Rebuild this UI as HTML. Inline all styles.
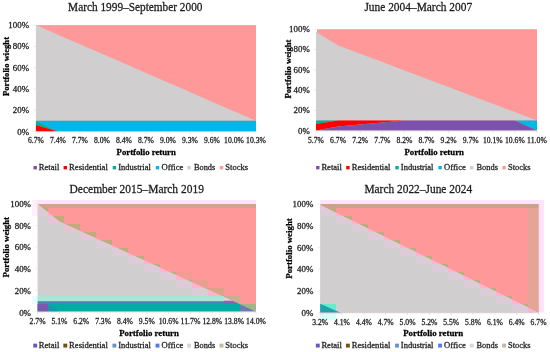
<!DOCTYPE html>
<html><head><meta charset="utf-8"><title>Portfolio weights</title>
<style>html,body{margin:0;padding:0;background:#fff}svg{display:block}text{font-family:"Liberation Serif", serif}</style></head><body>
<svg width="550" height="352" viewBox="0 0 550 352">
<rect width="550" height="352" fill="#fff"/>
<rect x="36.90" y="25.10" width="219.10" height="106.30" fill="#FF9999"/>
<polygon points="35.90,25.10 57.91,34.67 79.92,44.23 101.93,53.80 123.94,63.37 145.95,72.94 167.96,82.50 189.97,92.07 211.98,101.64 233.99,111.20 256.00,120.77 256.00,120.77 233.99,120.77 211.98,120.77 189.97,120.77 167.96,120.77 145.95,120.77 123.94,120.77 101.93,120.77 79.92,120.77 57.91,120.77 35.90,120.77" fill="#D0CECE" />
<polygon points="35.90,120.77 57.91,120.77 79.92,120.77 101.93,120.77 123.94,120.77 145.95,120.77 167.96,120.77 189.97,120.77 211.98,120.77 233.99,120.77 256.00,120.77 256.00,131.40 233.99,131.40 211.98,131.40 189.97,131.40 167.96,131.40 145.95,131.40 123.94,131.40 101.93,131.40 79.92,131.40 57.91,131.40 35.90,120.77" fill="#00B8E6" />
<polygon points="35.90,120.77 57.91,131.40 79.92,131.40 101.93,131.40 123.94,131.40 145.95,131.40 167.96,131.40 189.97,131.40 211.98,131.40 233.99,131.40 256.00,131.40 256.00,131.40 233.99,131.40 211.98,131.40 189.97,131.40 167.96,131.40 145.95,131.40 123.94,131.40 101.93,131.40 79.92,131.40 57.91,131.40 35.90,125.02" fill="#00B09A" />
<polygon points="35.90,125.02 57.91,131.40 79.92,131.40 101.93,131.40 123.94,131.40 145.95,131.40 167.96,131.40 189.97,131.40 211.98,131.40 233.99,131.40 256.00,131.40 256.00,131.40 233.99,131.40 211.98,131.40 189.97,131.40 167.96,131.40 145.95,131.40 123.94,131.40 101.93,131.40 79.92,131.40 57.91,131.40 35.90,131.40" fill="#FF0000" />
<path d="M35.90 131.70 H256.00" stroke="#D4D4D4" stroke-width="0.8" fill="none"/>
<path d="M35.90 131.70 v2.2M57.91 131.70 v2.2M79.92 131.70 v2.2M101.93 131.70 v2.2M123.94 131.70 v2.2M145.95 131.70 v2.2M167.96 131.70 v2.2M189.97 131.70 v2.2M211.98 131.70 v2.2M233.99 131.70 v2.2M256.00 131.70 v2.2" stroke="#DADADA" stroke-width="0.7" fill="none"/>
<path d="M35.90 131.40 h-2.2M35.90 110.14 h-2.2M35.90 88.88 h-2.2M35.90 67.62 h-2.2M35.90 46.36 h-2.2M35.90 25.10 h-2.2" stroke="#E2E2E2" stroke-width="0.7" fill="none"/>
<text x="29.10" y="134.80" font-size="8.30" text-anchor="end" textLength="11.84" lengthAdjust="spacingAndGlyphs" fill="#1c1c1c" stroke="#1c1c1c" stroke-width="0.26">0%</text>
<text x="29.10" y="113.46" font-size="8.30" text-anchor="end" textLength="16.28" lengthAdjust="spacingAndGlyphs" fill="#1c1c1c" stroke="#1c1c1c" stroke-width="0.26">20%</text>
<text x="29.10" y="92.12" font-size="8.30" text-anchor="end" textLength="16.28" lengthAdjust="spacingAndGlyphs" fill="#1c1c1c" stroke="#1c1c1c" stroke-width="0.26">40%</text>
<text x="29.10" y="70.78" font-size="8.30" text-anchor="end" textLength="16.28" lengthAdjust="spacingAndGlyphs" fill="#1c1c1c" stroke="#1c1c1c" stroke-width="0.26">60%</text>
<text x="29.10" y="49.44" font-size="8.30" text-anchor="end" textLength="16.28" lengthAdjust="spacingAndGlyphs" fill="#1c1c1c" stroke="#1c1c1c" stroke-width="0.26">80%</text>
<text x="29.10" y="28.10" font-size="8.30" text-anchor="end" textLength="20.72" lengthAdjust="spacingAndGlyphs" fill="#1c1c1c" stroke="#1c1c1c" stroke-width="0.26">100%</text>
<text x="35.90" y="143.20" font-size="7.90" text-anchor="middle" textLength="15.96" lengthAdjust="spacingAndGlyphs" fill="#1c1c1c" stroke="#1c1c1c" stroke-width="0.26">6.7%</text>
<text x="57.91" y="143.20" font-size="7.90" text-anchor="middle" textLength="15.96" lengthAdjust="spacingAndGlyphs" fill="#1c1c1c" stroke="#1c1c1c" stroke-width="0.26">7.4%</text>
<text x="79.92" y="143.20" font-size="7.90" text-anchor="middle" textLength="15.96" lengthAdjust="spacingAndGlyphs" fill="#1c1c1c" stroke="#1c1c1c" stroke-width="0.26">7.7%</text>
<text x="101.93" y="143.20" font-size="7.90" text-anchor="middle" textLength="15.96" lengthAdjust="spacingAndGlyphs" fill="#1c1c1c" stroke="#1c1c1c" stroke-width="0.26">8.0%</text>
<text x="123.94" y="143.20" font-size="7.90" text-anchor="middle" textLength="15.96" lengthAdjust="spacingAndGlyphs" fill="#1c1c1c" stroke="#1c1c1c" stroke-width="0.26">8.4%</text>
<text x="145.95" y="143.20" font-size="7.90" text-anchor="middle" textLength="15.96" lengthAdjust="spacingAndGlyphs" fill="#1c1c1c" stroke="#1c1c1c" stroke-width="0.26">8.7%</text>
<text x="167.96" y="143.20" font-size="7.90" text-anchor="middle" textLength="15.96" lengthAdjust="spacingAndGlyphs" fill="#1c1c1c" stroke="#1c1c1c" stroke-width="0.26">9.0%</text>
<text x="189.97" y="143.20" font-size="7.90" text-anchor="middle" textLength="15.96" lengthAdjust="spacingAndGlyphs" fill="#1c1c1c" stroke="#1c1c1c" stroke-width="0.26">9.3%</text>
<text x="211.98" y="143.20" font-size="7.90" text-anchor="middle" textLength="15.96" lengthAdjust="spacingAndGlyphs" fill="#1c1c1c" stroke="#1c1c1c" stroke-width="0.26">9.6%</text>
<text x="233.99" y="143.20" font-size="7.90" text-anchor="middle" textLength="19.79" lengthAdjust="spacingAndGlyphs" fill="#1c1c1c" stroke="#1c1c1c" stroke-width="0.26">10.0%</text>
<text x="256.00" y="143.20" font-size="7.90" text-anchor="middle" textLength="19.79" lengthAdjust="spacingAndGlyphs" fill="#1c1c1c" stroke="#1c1c1c" stroke-width="0.26">10.3%</text>
<text x="9.30" y="66.50" font-size="8.80" text-anchor="middle" font-weight="bold" textLength="59.00" lengthAdjust="spacingAndGlyphs" transform="rotate(-90 9.30 66.50)" fill="#000" stroke="#000" stroke-width="0.26">Portfolio wieght</text>
<text x="146.20" y="154.70" font-size="8.90" text-anchor="middle" font-weight="bold" textLength="59.30" lengthAdjust="spacingAndGlyphs" fill="#000" stroke="#000" stroke-width="0.26">Portfolio return</text>
<text x="68.10" y="10.50" font-size="11.50" text-anchor="start" textLength="134.40" lengthAdjust="spacingAndGlyphs" fill="#1c1c1c" stroke="#1c1c1c" stroke-width="0.26">March 1999–September 2000</text>
<rect x="33.50" y="166.00" width="3.40" height="3.40" fill="#7B52AB"/>
<text x="38.80" y="169.60" font-size="8.30" text-anchor="start" textLength="20.50" lengthAdjust="spacingAndGlyphs" fill="#1c1c1c" stroke="#1c1c1c" stroke-width="0.26">Retail</text>
<rect x="63.60" y="166.00" width="3.40" height="3.40" fill="#FF0000"/>
<text x="69.10" y="169.60" font-size="8.30" text-anchor="start" textLength="38.70" lengthAdjust="spacingAndGlyphs" fill="#1c1c1c" stroke="#1c1c1c" stroke-width="0.26">Residential</text>
<rect x="112.70" y="166.00" width="3.40" height="3.40" fill="#00B09A"/>
<text x="118.20" y="169.60" font-size="8.30" text-anchor="start" textLength="32.70" lengthAdjust="spacingAndGlyphs" fill="#1c1c1c" stroke="#1c1c1c" stroke-width="0.26">Industrial</text>
<rect x="155.80" y="166.00" width="3.40" height="3.40" fill="#00B8E6"/>
<text x="161.50" y="169.60" font-size="8.30" text-anchor="start" textLength="21.80" lengthAdjust="spacingAndGlyphs" fill="#1c1c1c" stroke="#1c1c1c" stroke-width="0.26">Office</text>
<rect x="187.40" y="166.00" width="3.40" height="3.40" fill="#D0CECE"/>
<text x="193.90" y="169.60" font-size="8.30" text-anchor="start" textLength="21.40" lengthAdjust="spacingAndGlyphs" fill="#1c1c1c" stroke="#1c1c1c" stroke-width="0.26">Bonds</text>
<rect x="219.80" y="166.00" width="3.40" height="3.40" fill="#FF9999"/>
<text x="225.30" y="169.60" font-size="8.30" text-anchor="start" textLength="22.80" lengthAdjust="spacingAndGlyphs" fill="#1c1c1c" stroke="#1c1c1c" stroke-width="0.26">Stocks</text>
<rect x="317.00" y="29.20" width="220.00" height="101.40" fill="#FF9999"/>
<polygon points="316.00,31.73 338.10,45.42 360.20,53.76 382.30,62.10 404.40,70.44 426.50,78.77 448.60,87.11 470.70,95.45 492.80,103.79 514.90,112.12 537.00,120.46 537.00,120.46 514.90,120.46 492.80,120.46 470.70,120.46 448.60,120.46 426.50,120.46 404.40,120.46 382.30,120.46 360.20,120.46 338.10,120.46 316.00,120.46" fill="#D0CECE" />
<polygon points="316.00,120.46 338.10,120.46 360.20,120.46 382.30,120.46 404.40,120.46 426.50,120.46 448.60,120.46 470.70,120.46 492.80,120.46 514.90,120.46 537.00,120.46 537.00,130.60 514.90,120.46 492.80,120.46 470.70,120.46 448.60,120.46 426.50,120.46 404.40,120.46 382.30,120.46 360.20,120.46 338.10,120.46 316.00,120.46" fill="#00B8E6" />
<polygon points="316.00,120.46 338.10,120.46 360.20,120.46 382.30,120.46 404.40,120.46 426.50,120.46 448.60,120.46 470.70,120.46 492.80,120.46 514.90,120.46 537.00,130.60 537.00,130.60 514.90,120.46 492.80,120.46 470.70,120.46 448.60,120.46 426.50,120.46 404.40,120.46 382.30,120.46 360.20,120.46 338.10,120.46 316.00,124.01" fill="#00B09A" />
<polygon points="316.00,124.01 338.10,120.46 360.20,120.46 382.30,120.46 404.40,120.46 426.50,120.46 448.60,120.46 470.70,120.46 492.80,120.46 514.90,120.46 537.00,130.60 537.00,130.60 514.90,120.46 492.80,120.46 470.70,120.46 448.60,120.46 426.50,120.46 404.40,120.46 382.30,122.49 360.20,124.52 338.10,126.54 316.00,130.60" fill="#FF0000" />
<polygon points="316.00,130.60 338.10,126.54 360.20,124.52 382.30,122.49 404.40,120.46 426.50,120.46 448.60,120.46 470.70,120.46 492.80,120.46 514.90,120.46 537.00,130.60 537.00,130.60 514.90,130.60 492.80,130.60 470.70,130.60 448.60,130.60 426.50,130.60 404.40,130.60 382.30,130.60 360.20,130.60 338.10,130.60 316.00,130.60" fill="#7B52AB" />
<path d="M316.00 130.90 H537.00" stroke="#D4D4D4" stroke-width="0.8" fill="none"/>
<path d="M316.00 130.90 v2.2M338.10 130.90 v2.2M360.20 130.90 v2.2M382.30 130.90 v2.2M404.40 130.90 v2.2M426.50 130.90 v2.2M448.60 130.90 v2.2M470.70 130.90 v2.2M492.80 130.90 v2.2M514.90 130.90 v2.2M537.00 130.90 v2.2" stroke="#DADADA" stroke-width="0.7" fill="none"/>
<path d="M316.00 130.60 h-2.2M316.00 110.32 h-2.2M316.00 90.04 h-2.2M316.00 69.76 h-2.2M316.00 49.48 h-2.2M316.00 29.20 h-2.2" stroke="#E2E2E2" stroke-width="0.7" fill="none"/>
<text x="309.80" y="133.80" font-size="8.30" text-anchor="end" textLength="11.84" lengthAdjust="spacingAndGlyphs" fill="#1c1c1c" stroke="#1c1c1c" stroke-width="0.26">0%</text>
<text x="309.80" y="113.44" font-size="8.30" text-anchor="end" textLength="16.28" lengthAdjust="spacingAndGlyphs" fill="#1c1c1c" stroke="#1c1c1c" stroke-width="0.26">20%</text>
<text x="309.80" y="93.08" font-size="8.30" text-anchor="end" textLength="16.28" lengthAdjust="spacingAndGlyphs" fill="#1c1c1c" stroke="#1c1c1c" stroke-width="0.26">40%</text>
<text x="309.80" y="72.72" font-size="8.30" text-anchor="end" textLength="16.28" lengthAdjust="spacingAndGlyphs" fill="#1c1c1c" stroke="#1c1c1c" stroke-width="0.26">60%</text>
<text x="309.80" y="52.36" font-size="8.30" text-anchor="end" textLength="16.28" lengthAdjust="spacingAndGlyphs" fill="#1c1c1c" stroke="#1c1c1c" stroke-width="0.26">80%</text>
<text x="309.80" y="32.00" font-size="8.30" text-anchor="end" textLength="20.72" lengthAdjust="spacingAndGlyphs" fill="#1c1c1c" stroke="#1c1c1c" stroke-width="0.26">100%</text>
<text x="316.00" y="142.90" font-size="7.90" text-anchor="middle" textLength="15.96" lengthAdjust="spacingAndGlyphs" fill="#1c1c1c" stroke="#1c1c1c" stroke-width="0.26">5.7%</text>
<text x="338.10" y="142.90" font-size="7.90" text-anchor="middle" textLength="15.96" lengthAdjust="spacingAndGlyphs" fill="#1c1c1c" stroke="#1c1c1c" stroke-width="0.26">6.7%</text>
<text x="360.20" y="142.90" font-size="7.90" text-anchor="middle" textLength="15.96" lengthAdjust="spacingAndGlyphs" fill="#1c1c1c" stroke="#1c1c1c" stroke-width="0.26">7.2%</text>
<text x="382.30" y="142.90" font-size="7.90" text-anchor="middle" textLength="15.96" lengthAdjust="spacingAndGlyphs" fill="#1c1c1c" stroke="#1c1c1c" stroke-width="0.26">7.7%</text>
<text x="404.40" y="142.90" font-size="7.90" text-anchor="middle" textLength="15.96" lengthAdjust="spacingAndGlyphs" fill="#1c1c1c" stroke="#1c1c1c" stroke-width="0.26">8.2%</text>
<text x="426.50" y="142.90" font-size="7.90" text-anchor="middle" textLength="15.96" lengthAdjust="spacingAndGlyphs" fill="#1c1c1c" stroke="#1c1c1c" stroke-width="0.26">8.7%</text>
<text x="448.60" y="142.90" font-size="7.90" text-anchor="middle" textLength="15.96" lengthAdjust="spacingAndGlyphs" fill="#1c1c1c" stroke="#1c1c1c" stroke-width="0.26">9.2%</text>
<text x="470.70" y="142.90" font-size="7.90" text-anchor="middle" textLength="15.96" lengthAdjust="spacingAndGlyphs" fill="#1c1c1c" stroke="#1c1c1c" stroke-width="0.26">9.7%</text>
<text x="492.80" y="142.90" font-size="7.90" text-anchor="middle" textLength="19.79" lengthAdjust="spacingAndGlyphs" fill="#1c1c1c" stroke="#1c1c1c" stroke-width="0.26">10.1%</text>
<text x="514.90" y="142.90" font-size="7.90" text-anchor="middle" textLength="19.79" lengthAdjust="spacingAndGlyphs" fill="#1c1c1c" stroke="#1c1c1c" stroke-width="0.26">10.6%</text>
<text x="537.00" y="142.90" font-size="7.90" text-anchor="middle" textLength="19.79" lengthAdjust="spacingAndGlyphs" fill="#1c1c1c" stroke="#1c1c1c" stroke-width="0.26">11.0%</text>
<text x="291.30" y="69.10" font-size="8.80" text-anchor="middle" font-weight="bold" textLength="59.00" lengthAdjust="spacingAndGlyphs" transform="rotate(-90 291.30 69.10)" fill="#000" stroke="#000" stroke-width="0.26">Portfolio weight</text>
<text x="434.20" y="154.50" font-size="8.90" text-anchor="middle" font-weight="bold" textLength="59.50" lengthAdjust="spacingAndGlyphs" fill="#000" stroke="#000" stroke-width="0.26">Portfolio return</text>
<text x="364.40" y="11.00" font-size="11.50" text-anchor="start" textLength="107.70" lengthAdjust="spacingAndGlyphs" fill="#1c1c1c" stroke="#1c1c1c" stroke-width="0.26">June 2004–March 2007</text>
<rect x="316.10" y="166.00" width="3.40" height="3.40" fill="#7B52AB"/>
<text x="321.40" y="169.60" font-size="8.30" text-anchor="start" textLength="20.50" lengthAdjust="spacingAndGlyphs" fill="#1c1c1c" stroke="#1c1c1c" stroke-width="0.26">Retail</text>
<rect x="346.20" y="166.00" width="3.40" height="3.40" fill="#FF0000"/>
<text x="351.70" y="169.60" font-size="8.30" text-anchor="start" textLength="38.70" lengthAdjust="spacingAndGlyphs" fill="#1c1c1c" stroke="#1c1c1c" stroke-width="0.26">Residential</text>
<rect x="395.30" y="166.00" width="3.40" height="3.40" fill="#00B09A"/>
<text x="400.80" y="169.60" font-size="8.30" text-anchor="start" textLength="32.70" lengthAdjust="spacingAndGlyphs" fill="#1c1c1c" stroke="#1c1c1c" stroke-width="0.26">Industrial</text>
<rect x="438.40" y="166.00" width="3.40" height="3.40" fill="#00B8E6"/>
<text x="444.10" y="169.60" font-size="8.30" text-anchor="start" textLength="21.80" lengthAdjust="spacingAndGlyphs" fill="#1c1c1c" stroke="#1c1c1c" stroke-width="0.26">Office</text>
<rect x="470.00" y="166.00" width="3.40" height="3.40" fill="#D0CECE"/>
<text x="476.50" y="169.60" font-size="8.30" text-anchor="start" textLength="21.40" lengthAdjust="spacingAndGlyphs" fill="#1c1c1c" stroke="#1c1c1c" stroke-width="0.26">Bonds</text>
<rect x="502.40" y="166.00" width="3.40" height="3.40" fill="#FF9999"/>
<text x="507.90" y="169.60" font-size="8.30" text-anchor="start" textLength="22.80" lengthAdjust="spacingAndGlyphs" fill="#1c1c1c" stroke="#1c1c1c" stroke-width="0.26">Stocks</text>
<rect x="32" y="200" width="224" height="4.2" fill="#FFE3FB"/>
<rect x="32" y="200" width="5.6" height="16" fill="#FFF0FA"/>
<rect x="38.60" y="204.00" width="217.40" height="107.60" fill="#FF9999"/>
<polygon points="37.60,204.00 59.44,221.50 81.28,231.51 103.12,241.52 124.96,251.53 146.80,261.54 168.64,271.56 190.48,281.57 212.32,291.58 234.16,301.59 256.00,311.60 256.00,311.60 37.60,311.60" fill="#D0CECE" />
<clipPath id="c1"><rect x="37.60" y="208.00" width="10.40" height="8.00"/></clipPath>
<g clip-path="url(#c1)">
<polygon points="37.60,204.00 37.60,204.00 59.44,221.50 81.28,231.51 103.12,241.52 124.96,251.53 146.80,261.54 168.64,271.56 190.48,281.57 212.32,291.58 234.16,301.59 256.00,311.60 256.00,311.60 256.00,204.00" fill="#C2AA7E" />
<polygon points="37.60,204.00 59.44,221.50 81.28,231.51 103.12,241.52 124.96,251.53 146.80,261.54 168.64,271.56 190.48,281.57 212.32,291.58 234.16,301.59 256.00,311.60 256.00,311.60 37.60,311.60" fill="#DDCBD7" />
</g>
<clipPath id="c2"><rect x="48.00" y="208.00" width="16.00" height="8.00"/></clipPath>
<g clip-path="url(#c2)">
<polygon points="37.60,204.00 59.44,221.50 81.28,231.51 103.12,241.52 124.96,251.53 146.80,261.54 168.64,271.56 190.48,281.57 212.32,291.58 234.16,301.59 256.00,311.60 256.00,311.60 37.60,311.60" fill="#FBB4CE" />
</g>
<clipPath id="c3"><rect x="48.00" y="216.00" width="16.00" height="8.00"/></clipPath>
<g clip-path="url(#c3)">
<polygon points="37.60,204.00 37.60,204.00 59.44,221.50 81.28,231.51 103.12,241.52 124.96,251.53 146.80,261.54 168.64,271.56 190.48,281.57 212.32,291.58 234.16,301.59 256.00,311.60 256.00,311.60 256.00,204.00" fill="#C2AA7E" />
<polygon points="37.60,204.00 59.44,221.50 81.28,231.51 103.12,241.52 124.96,251.53 146.80,261.54 168.64,271.56 190.48,281.57 212.32,291.58 234.16,301.59 256.00,311.60 256.00,311.60 37.60,311.60" fill="#E5C5D5" />
</g>
<clipPath id="c4"><rect x="64.00" y="224.00" width="16.00" height="8.00"/></clipPath>
<g clip-path="url(#c4)">
<polygon points="37.60,204.00 37.60,204.00 59.44,221.50 81.28,231.51 103.12,241.52 124.96,251.53 146.80,261.54 168.64,271.56 190.48,281.57 212.32,291.58 234.16,301.59 256.00,311.60 256.00,311.60 256.00,204.00" fill="#C2AA7E" />
<polygon points="37.60,204.00 59.44,221.50 81.28,231.51 103.12,241.52 124.96,251.53 146.80,261.54 168.64,271.56 190.48,281.57 212.32,291.58 234.16,301.59 256.00,311.60 256.00,311.60 37.60,311.60" fill="#E8C3D4" />
</g>
<clipPath id="c5"><rect x="80.00" y="224.00" width="16.00" height="8.00"/></clipPath>
<g clip-path="url(#c5)">
<polygon points="37.60,204.00 59.44,221.50 81.28,231.51 103.12,241.52 124.96,251.53 146.80,261.54 168.64,271.56 190.48,281.57 212.32,291.58 234.16,301.59 256.00,311.60 256.00,311.60 37.60,311.60" fill="#FBB4CE" />
</g>
<clipPath id="c6"><rect x="80.00" y="232.00" width="16.00" height="8.00"/></clipPath>
<g clip-path="url(#c6)">
<polygon points="37.60,204.00 37.60,204.00 59.44,221.50 81.28,231.51 103.12,241.52 124.96,251.53 146.80,261.54 168.64,271.56 190.48,281.57 212.32,291.58 234.16,301.59 256.00,311.60 256.00,311.60 256.00,204.00" fill="#C2AA7E" />
<polygon points="37.60,204.00 59.44,221.50 81.28,231.51 103.12,241.52 124.96,251.53 146.80,261.54 168.64,271.56 190.48,281.57 212.32,291.58 234.16,301.59 256.00,311.60 256.00,311.60 37.60,311.60" fill="#E0C8D6" />
</g>
<clipPath id="c7"><rect x="96.00" y="232.00" width="16.00" height="8.00"/></clipPath>
<g clip-path="url(#c7)">
<polygon points="37.60,204.00 59.44,221.50 81.28,231.51 103.12,241.52 124.96,251.53 146.80,261.54 168.64,271.56 190.48,281.57 212.32,291.58 234.16,301.59 256.00,311.60 256.00,311.60 37.60,311.60" fill="#FBB4CE" />
</g>
<clipPath id="c8"><rect x="96.00" y="240.00" width="16.00" height="8.00"/></clipPath>
<g clip-path="url(#c8)">
<polygon points="37.60,204.00 37.60,204.00 59.44,221.50 81.28,231.51 103.12,241.52 124.96,251.53 146.80,261.54 168.64,271.56 190.48,281.57 212.32,291.58 234.16,301.59 256.00,311.60 256.00,311.60 256.00,204.00" fill="#C2AA7E" />
<polygon points="37.60,204.00 59.44,221.50 81.28,231.51 103.12,241.52 124.96,251.53 146.80,261.54 168.64,271.56 190.48,281.57 212.32,291.58 234.16,301.59 256.00,311.60 256.00,311.60 37.60,311.60" fill="#DDCBD7" />
</g>
<clipPath id="c9"><rect x="112.00" y="240.00" width="16.00" height="8.00"/></clipPath>
<g clip-path="url(#c9)">
<polygon points="37.60,204.00 59.44,221.50 81.28,231.51 103.12,241.52 124.96,251.53 146.80,261.54 168.64,271.56 190.48,281.57 212.32,291.58 234.16,301.59 256.00,311.60 256.00,311.60 37.60,311.60" fill="#FBB4CE" />
</g>
<clipPath id="c10"><rect x="112.00" y="248.00" width="16.00" height="8.00"/></clipPath>
<g clip-path="url(#c10)">
<polygon points="37.60,204.00 37.60,204.00 59.44,221.50 81.28,231.51 103.12,241.52 124.96,251.53 146.80,261.54 168.64,271.56 190.48,281.57 212.32,291.58 234.16,301.59 256.00,311.60 256.00,311.60 256.00,204.00" fill="#C2AA7E" />
<polygon points="37.60,204.00 59.44,221.50 81.28,231.51 103.12,241.52 124.96,251.53 146.80,261.54 168.64,271.56 190.48,281.57 212.32,291.58 234.16,301.59 256.00,311.60 256.00,311.60 37.60,311.60" fill="#DDCBD7" />
</g>
<clipPath id="c11"><rect x="128.00" y="248.00" width="16.00" height="8.00"/></clipPath>
<g clip-path="url(#c11)">
<polygon points="37.60,204.00 59.44,221.50 81.28,231.51 103.12,241.52 124.96,251.53 146.80,261.54 168.64,271.56 190.48,281.57 212.32,291.58 234.16,301.59 256.00,311.60 256.00,311.60 37.60,311.60" fill="#FBB4CE" />
</g>
<clipPath id="c12"><rect x="128.00" y="256.00" width="16.00" height="8.00"/></clipPath>
<g clip-path="url(#c12)">
<polygon points="37.60,204.00 37.60,204.00 59.44,221.50 81.28,231.51 103.12,241.52 124.96,251.53 146.80,261.54 168.64,271.56 190.48,281.57 212.32,291.58 234.16,301.59 256.00,311.60 256.00,311.60 256.00,204.00" fill="#C2AA7E" />
<polygon points="37.60,204.00 59.44,221.50 81.28,231.51 103.12,241.52 124.96,251.53 146.80,261.54 168.64,271.56 190.48,281.57 212.32,291.58 234.16,301.59 256.00,311.60 256.00,311.60 37.60,311.60" fill="#DDCBD7" />
</g>
<clipPath id="c13"><rect x="144.00" y="256.00" width="16.00" height="8.00"/></clipPath>
<g clip-path="url(#c13)">
<polygon points="37.60,204.00 59.44,221.50 81.28,231.51 103.12,241.52 124.96,251.53 146.80,261.54 168.64,271.56 190.48,281.57 212.32,291.58 234.16,301.59 256.00,311.60 256.00,311.60 37.60,311.60" fill="#FBB4CE" />
</g>
<clipPath id="c14"><rect x="144.00" y="264.00" width="16.00" height="8.00"/></clipPath>
<g clip-path="url(#c14)">
<polygon points="37.60,204.00 37.60,204.00 59.44,221.50 81.28,231.51 103.12,241.52 124.96,251.53 146.80,261.54 168.64,271.56 190.48,281.57 212.32,291.58 234.16,301.59 256.00,311.60 256.00,311.60 256.00,204.00" fill="#C2AA7E" />
<polygon points="37.60,204.00 59.44,221.50 81.28,231.51 103.12,241.52 124.96,251.53 146.80,261.54 168.64,271.56 190.48,281.57 212.32,291.58 234.16,301.59 256.00,311.60 256.00,311.60 37.60,311.60" fill="#DDCBD7" />
</g>
<clipPath id="c15"><rect x="160.00" y="264.00" width="16.00" height="8.00"/></clipPath>
<g clip-path="url(#c15)">
<polygon points="37.60,204.00 37.60,204.00 59.44,221.50 81.28,231.51 103.12,241.52 124.96,251.53 146.80,261.54 168.64,271.56 190.48,281.57 212.32,291.58 234.16,301.59 256.00,311.60 256.00,311.60 256.00,204.00" fill="#FC9A98" />
<polygon points="37.60,204.00 59.44,221.50 81.28,231.51 103.12,241.52 124.96,251.53 146.80,261.54 168.64,271.56 190.48,281.57 212.32,291.58 234.16,301.59 256.00,311.60 256.00,311.60 37.60,311.60" fill="#FBB4CE" />
</g>
<clipPath id="c16"><rect x="160.00" y="272.00" width="16.00" height="8.00"/></clipPath>
<g clip-path="url(#c16)">
<polygon points="37.60,204.00 37.60,204.00 59.44,221.50 81.28,231.51 103.12,241.52 124.96,251.53 146.80,261.54 168.64,271.56 190.48,281.57 212.32,291.58 234.16,301.59 256.00,311.60 256.00,311.60 256.00,204.00" fill="#C2AA7E" />
<polygon points="37.60,204.00 59.44,221.50 81.28,231.51 103.12,241.52 124.96,251.53 146.80,261.54 168.64,271.56 190.48,281.57 212.32,291.58 234.16,301.59 256.00,311.60 256.00,311.60 37.60,311.60" fill="#DDCBD7" />
</g>
<clipPath id="c17"><rect x="176.00" y="272.00" width="16.00" height="8.00"/></clipPath>
<g clip-path="url(#c17)">
<polygon points="37.60,204.00 37.60,204.00 59.44,221.50 81.28,231.51 103.12,241.52 124.96,251.53 146.80,261.54 168.64,271.56 190.48,281.57 212.32,291.58 234.16,301.59 256.00,311.60 256.00,311.60 256.00,204.00" fill="#F39C94" />
<polygon points="37.60,204.00 59.44,221.50 81.28,231.51 103.12,241.52 124.96,251.53 146.80,261.54 168.64,271.56 190.48,281.57 212.32,291.58 234.16,301.59 256.00,311.60 256.00,311.60 37.60,311.60" fill="#FBB4CE" />
</g>
<clipPath id="c18"><rect x="176.00" y="280.00" width="16.00" height="8.00"/></clipPath>
<g clip-path="url(#c18)">
<polygon points="37.60,204.00 37.60,204.00 59.44,221.50 81.28,231.51 103.12,241.52 124.96,251.53 146.80,261.54 168.64,271.56 190.48,281.57 212.32,291.58 234.16,301.59 256.00,311.60 256.00,311.60 256.00,204.00" fill="#C2AA7E" />
<polygon points="37.60,204.00 59.44,221.50 81.28,231.51 103.12,241.52 124.96,251.53 146.80,261.54 168.64,271.56 190.48,281.57 212.32,291.58 234.16,301.59 256.00,311.60 256.00,311.60 37.60,311.60" fill="#DDCBD7" />
</g>
<clipPath id="c19"><rect x="192.00" y="280.00" width="16.00" height="8.00"/></clipPath>
<g clip-path="url(#c19)">
<polygon points="37.60,204.00 37.60,204.00 59.44,221.50 81.28,231.51 103.12,241.52 124.96,251.53 146.80,261.54 168.64,271.56 190.48,281.57 212.32,291.58 234.16,301.59 256.00,311.60 256.00,311.60 256.00,204.00" fill="#E89F8F" />
<polygon points="37.60,204.00 59.44,221.50 81.28,231.51 103.12,241.52 124.96,251.53 146.80,261.54 168.64,271.56 190.48,281.57 212.32,291.58 234.16,301.59 256.00,311.60 256.00,311.60 37.60,311.60" fill="#FBB4CE" />
</g>
<clipPath id="c20"><rect x="192.00" y="288.00" width="16.00" height="8.00"/></clipPath>
<g clip-path="url(#c20)">
<polygon points="37.60,204.00 37.60,204.00 59.44,221.50 81.28,231.51 103.12,241.52 124.96,251.53 146.80,261.54 168.64,271.56 190.48,281.57 212.32,291.58 234.16,301.59 256.00,311.60 256.00,311.60 256.00,204.00" fill="#C2AA7E" />
<polygon points="37.60,204.00 59.44,221.50 81.28,231.51 103.12,241.52 124.96,251.53 146.80,261.54 168.64,271.56 190.48,281.57 212.32,291.58 234.16,301.59 256.00,311.60 256.00,311.60 37.60,311.60" fill="#DDCBD7" />
</g>
<clipPath id="c21"><rect x="208.00" y="288.00" width="16.00" height="8.00"/></clipPath>
<g clip-path="url(#c21)">
<polygon points="37.60,204.00 37.60,204.00 59.44,221.50 81.28,231.51 103.12,241.52 124.96,251.53 146.80,261.54 168.64,271.56 190.48,281.57 212.32,291.58 234.16,301.59 256.00,311.60 256.00,311.60 256.00,204.00" fill="#DCA38A" />
<polygon points="37.60,204.00 59.44,221.50 81.28,231.51 103.12,241.52 124.96,251.53 146.80,261.54 168.64,271.56 190.48,281.57 212.32,291.58 234.16,301.59 256.00,311.60 256.00,311.60 37.60,311.60" fill="#FBB4CE" />
</g>
<clipPath id="c22"><rect x="208.00" y="296.00" width="16.00" height="8.00"/></clipPath>
<g clip-path="url(#c22)">
<polygon points="37.60,204.00 37.60,204.00 59.44,221.50 81.28,231.51 103.12,241.52 124.96,251.53 146.80,261.54 168.64,271.56 190.48,281.57 212.32,291.58 234.16,301.59 256.00,311.60 256.00,311.60 256.00,204.00" fill="#C2AA7E" />
<polygon points="37.60,204.00 59.44,221.50 81.28,231.51 103.12,241.52 124.96,251.53 146.80,261.54 168.64,271.56 190.48,281.57 212.32,291.58 234.16,301.59 256.00,311.60 256.00,311.60 37.60,311.60" fill="#DDCBD7" />
</g>
<clipPath id="c23"><rect x="224.00" y="296.00" width="16.00" height="8.00"/></clipPath>
<g clip-path="url(#c23)">
<polygon points="37.60,204.00 37.60,204.00 59.44,221.50 81.28,231.51 103.12,241.52 124.96,251.53 146.80,261.54 168.64,271.56 190.48,281.57 212.32,291.58 234.16,301.59 256.00,311.60 256.00,311.60 256.00,204.00" fill="#CFA684" />
<polygon points="37.60,204.00 59.44,221.50 81.28,231.51 103.12,241.52 124.96,251.53 146.80,261.54 168.64,271.56 190.48,281.57 212.32,291.58 234.16,301.59 256.00,311.60 256.00,311.60 37.60,311.60" fill="#F8B6CF" />
</g>
<clipPath id="c24"><rect x="240.00" y="304.00" width="16.00" height="7.60"/></clipPath>
<g clip-path="url(#c24)">
<polygon points="37.60,204.00 37.60,204.00 59.44,221.50 81.28,231.51 103.12,241.52 124.96,251.53 146.80,261.54 168.64,271.56 190.48,281.57 212.32,291.58 234.16,301.59 256.00,311.60 256.00,311.60 256.00,204.00" fill="#C5A97F" />
<polygon points="37.60,204.00 59.44,221.50 81.28,231.51 103.12,241.52 124.96,251.53 146.80,261.54 168.64,271.56 190.48,281.57 212.32,291.58 234.16,301.59 256.00,311.60 256.00,311.60 37.60,311.60" fill="#F3BAD0" />
</g>
<clipPath id="c25"><rect x="37.60" y="204.00" width="218.40" height="4.00"/></clipPath>
<g clip-path="url(#c25)">
<polygon points="37.60,204.00 37.60,204.00 59.44,221.50 81.28,231.51 103.12,241.52 124.96,251.53 146.80,261.54 168.64,271.56 190.48,281.57 212.32,291.58 234.16,301.59 256.00,311.60 256.00,311.60 256.00,204.00" fill="#D3A28C" />
<polygon points="37.60,204.00 59.44,221.50 81.28,231.51 103.12,241.52 124.96,251.53 146.80,261.54 168.64,271.56 190.48,281.57 212.32,291.58 234.16,301.59 256.00,311.60 256.00,311.60 37.60,311.60" fill="#DDCBD7" />
</g>
<rect x="32" y="296" width="5.6" height="8" fill="#E8FCFA"/>
<rect x="37.60" y="296" width="186.40" height="5.3" fill="#A9E6D6"/>
<rect x="37.60" y="301.2" width="188.40" height="2.9" fill="#4C87B2"/>
<rect x="37.60" y="304" width="202.40" height="7.60" fill="#00ADA3"/>
<rect x="37.60" y="304" width="10.40" height="7.60" fill="#7B58B0"/>
<polygon points="48.00,304.80 59.50,311.60 48.00,311.60" fill="#1D93B0" />
<clipPath id="c26"><rect x="224.00" y="296.00" width="16.00" height="8.00"/></clipPath>
<g clip-path="url(#c26)">
<rect x="224" y="296" width="16" height="8" fill="#E3D3DF"/>
<rect x="224" y="300.7" width="16" height="3.3" fill="#8A63B4"/>
<polygon points="37.60,204.00 37.60,204.00 59.44,221.50 81.28,231.51 103.12,241.52 124.96,251.53 146.80,261.54 168.64,271.56 190.48,281.57 212.32,291.58 234.16,301.59 256.00,311.60 256.00,311.60 256.00,204.00" fill="#C9AE90" />
</g>
<polygon points="240.00,304.00 256.00,311.60 240.00,311.60" fill="#6A7BB2" />
<polygon points="240.00,304.00 256.00,304.00 256.00,311.60" fill="#A3B38A" />
<path d="M37.60 311.90 H256.00" stroke="#D4D4D4" stroke-width="0.8" fill="none"/>
<path d="M37.60 311.90 v2.2M59.44 311.90 v2.2M81.28 311.90 v2.2M103.12 311.90 v2.2M124.96 311.90 v2.2M146.80 311.90 v2.2M168.64 311.90 v2.2M190.48 311.90 v2.2M212.32 311.90 v2.2M234.16 311.90 v2.2M256.00 311.90 v2.2" stroke="#DADADA" stroke-width="0.7" fill="none"/>
<path d="M37.60 311.60 h-2.2M37.60 290.08 h-2.2M37.60 268.56 h-2.2M37.60 247.04 h-2.2M37.60 225.52 h-2.2M37.60 204.00 h-2.2" stroke="#E2E2E2" stroke-width="0.7" fill="none"/>
<text x="31.00" y="315.70" font-size="8.30" text-anchor="end" textLength="11.84" lengthAdjust="spacingAndGlyphs" fill="#1c1c1c" stroke="#1c1c1c" stroke-width="0.26">0%</text>
<text x="31.00" y="293.90" font-size="8.30" text-anchor="end" textLength="16.28" lengthAdjust="spacingAndGlyphs" fill="#1c1c1c" stroke="#1c1c1c" stroke-width="0.26">20%</text>
<text x="31.00" y="272.10" font-size="8.30" text-anchor="end" textLength="16.28" lengthAdjust="spacingAndGlyphs" fill="#1c1c1c" stroke="#1c1c1c" stroke-width="0.26">40%</text>
<text x="31.00" y="250.30" font-size="8.30" text-anchor="end" textLength="16.28" lengthAdjust="spacingAndGlyphs" fill="#1c1c1c" stroke="#1c1c1c" stroke-width="0.26">60%</text>
<text x="31.00" y="228.50" font-size="8.30" text-anchor="end" textLength="16.28" lengthAdjust="spacingAndGlyphs" fill="#1c1c1c" stroke="#1c1c1c" stroke-width="0.26">80%</text>
<text x="31.00" y="206.70" font-size="8.30" text-anchor="end" textLength="20.72" lengthAdjust="spacingAndGlyphs" fill="#1c1c1c" stroke="#1c1c1c" stroke-width="0.26">100%</text>
<text x="37.60" y="324.00" font-size="7.90" text-anchor="middle" textLength="15.96" lengthAdjust="spacingAndGlyphs" fill="#1c1c1c" stroke="#1c1c1c" stroke-width="0.26">2.7%</text>
<text x="59.44" y="324.00" font-size="7.90" text-anchor="middle" textLength="15.96" lengthAdjust="spacingAndGlyphs" fill="#1c1c1c" stroke="#1c1c1c" stroke-width="0.26">5.1%</text>
<text x="81.28" y="324.00" font-size="7.90" text-anchor="middle" textLength="15.96" lengthAdjust="spacingAndGlyphs" fill="#1c1c1c" stroke="#1c1c1c" stroke-width="0.26">6.2%</text>
<text x="103.12" y="324.00" font-size="7.90" text-anchor="middle" textLength="15.96" lengthAdjust="spacingAndGlyphs" fill="#1c1c1c" stroke="#1c1c1c" stroke-width="0.26">7.3%</text>
<text x="124.96" y="324.00" font-size="7.90" text-anchor="middle" textLength="15.96" lengthAdjust="spacingAndGlyphs" fill="#1c1c1c" stroke="#1c1c1c" stroke-width="0.26">8.4%</text>
<text x="146.80" y="324.00" font-size="7.90" text-anchor="middle" textLength="15.96" lengthAdjust="spacingAndGlyphs" fill="#1c1c1c" stroke="#1c1c1c" stroke-width="0.26">9.5%</text>
<text x="168.64" y="324.00" font-size="7.90" text-anchor="middle" textLength="19.79" lengthAdjust="spacingAndGlyphs" fill="#1c1c1c" stroke="#1c1c1c" stroke-width="0.26">10.6%</text>
<text x="190.48" y="324.00" font-size="7.90" text-anchor="middle" textLength="19.79" lengthAdjust="spacingAndGlyphs" fill="#1c1c1c" stroke="#1c1c1c" stroke-width="0.26">11.7%</text>
<text x="212.32" y="324.00" font-size="7.90" text-anchor="middle" textLength="19.79" lengthAdjust="spacingAndGlyphs" fill="#1c1c1c" stroke="#1c1c1c" stroke-width="0.26">12.8%</text>
<text x="234.16" y="324.00" font-size="7.90" text-anchor="middle" textLength="19.79" lengthAdjust="spacingAndGlyphs" fill="#1c1c1c" stroke="#1c1c1c" stroke-width="0.26">13.8%</text>
<text x="256.00" y="324.00" font-size="7.90" text-anchor="middle" textLength="19.79" lengthAdjust="spacingAndGlyphs" fill="#1c1c1c" stroke="#1c1c1c" stroke-width="0.26">14.0%</text>
<text x="9.20" y="247.20" font-size="8.80" text-anchor="middle" font-weight="bold" textLength="60.50" lengthAdjust="spacingAndGlyphs" transform="rotate(-90 9.20 247.20)" fill="#000" stroke="#000" stroke-width="0.26">Portfolio weight</text>
<text x="149.00" y="335.80" font-size="8.90" text-anchor="middle" font-weight="bold" textLength="59.70" lengthAdjust="spacingAndGlyphs" fill="#000" stroke="#000" stroke-width="0.26">Portfolio return</text>
<text x="69.60" y="193.30" font-size="11.50" text-anchor="start" textLength="134.30" lengthAdjust="spacingAndGlyphs" fill="#1c1c1c" stroke="#1c1c1c" stroke-width="0.26">December 2015–March 2019</text>
<rect x="33.25" y="343.65" width="3.90" height="3.90" fill="#645CBC"/>
<text x="38.80" y="347.80" font-size="8.30" text-anchor="start" textLength="20.50" lengthAdjust="spacingAndGlyphs" fill="#1c1c1c" stroke="#1c1c1c" stroke-width="0.26">Retail</text>
<rect x="63.35" y="343.65" width="3.90" height="3.90" fill="#74520F"/>
<text x="69.10" y="347.80" font-size="8.30" text-anchor="start" textLength="38.70" lengthAdjust="spacingAndGlyphs" fill="#1c1c1c" stroke="#1c1c1c" stroke-width="0.26">Residential</text>
<rect x="112.45" y="343.65" width="3.90" height="3.90" fill="#6594C6"/>
<text x="118.20" y="347.80" font-size="8.30" text-anchor="start" textLength="32.70" lengthAdjust="spacingAndGlyphs" fill="#1c1c1c" stroke="#1c1c1c" stroke-width="0.26">Industrial</text>
<rect x="155.55" y="343.65" width="3.90" height="3.90" fill="#4F7CE6"/>
<text x="161.50" y="347.80" font-size="8.30" text-anchor="start" textLength="21.80" lengthAdjust="spacingAndGlyphs" fill="#1c1c1c" stroke="#1c1c1c" stroke-width="0.26">Office</text>
<rect x="187.15" y="343.65" width="3.90" height="3.90" fill="#D6D6D6"/>
<text x="193.90" y="347.80" font-size="8.30" text-anchor="start" textLength="21.40" lengthAdjust="spacingAndGlyphs" fill="#1c1c1c" stroke="#1c1c1c" stroke-width="0.26">Bonds</text>
<rect x="219.55" y="343.65" width="3.90" height="3.90" fill="#C4B8A0"/>
<text x="225.30" y="347.80" font-size="8.30" text-anchor="start" textLength="22.80" lengthAdjust="spacingAndGlyphs" fill="#1c1c1c" stroke="#1c1c1c" stroke-width="0.26">Stocks</text>
<rect x="320.20" y="200" width="223.80" height="112.50" fill="#FFE3FB"/>
<rect x="320" y="312.50" width="16" height="7.6" fill="#D9FFFB"/>
<rect x="321.20" y="204.00" width="217.40" height="108.50" fill="#FF9999"/>
<polygon points="320.20,204.90 342.04,215.66 363.88,226.42 385.72,237.18 407.56,247.94 429.40,258.70 451.24,269.46 473.08,280.22 494.92,290.98 516.76,301.74 538.60,312.50 320.20,312.50" fill="#D0CECE" />
<clipPath id="c27"><rect x="320.20" y="208.00" width="15.80" height="8.00"/></clipPath>
<g clip-path="url(#c27)">
<polygon points="320.20,204.00 320.20,204.90 342.04,215.66 363.88,226.42 385.72,237.18 407.56,247.94 429.40,258.70 451.24,269.46 473.08,280.22 494.92,290.98 516.76,301.74 538.60,312.50 538.60,204.00" fill="#C2AA7E" />
<polygon points="320.20,204.90 342.04,215.66 363.88,226.42 385.72,237.18 407.56,247.94 429.40,258.70 451.24,269.46 473.08,280.22 494.92,290.98 516.76,301.74 538.60,312.50 320.20,312.50" fill="#DDCBD7" />
</g>
<clipPath id="c28"><rect x="336.00" y="208.00" width="16.00" height="8.00"/></clipPath>
<g clip-path="url(#c28)">
<polygon points="320.20,204.90 342.04,215.66 363.88,226.42 385.72,237.18 407.56,247.94 429.40,258.70 451.24,269.46 473.08,280.22 494.92,290.98 516.76,301.74 538.60,312.50 320.20,312.50" fill="#FBB4CE" />
</g>
<clipPath id="c29"><rect x="336.00" y="216.00" width="16.00" height="8.00"/></clipPath>
<g clip-path="url(#c29)">
<polygon points="320.20,204.00 320.20,204.90 342.04,215.66 363.88,226.42 385.72,237.18 407.56,247.94 429.40,258.70 451.24,269.46 473.08,280.22 494.92,290.98 516.76,301.74 538.60,312.50 538.60,204.00" fill="#C2AA7E" />
<polygon points="320.20,204.90 342.04,215.66 363.88,226.42 385.72,237.18 407.56,247.94 429.40,258.70 451.24,269.46 473.08,280.22 494.92,290.98 516.76,301.74 538.60,312.50 320.20,312.50" fill="#DDCBD7" />
</g>
<clipPath id="c30"><rect x="352.00" y="216.00" width="16.00" height="8.00"/></clipPath>
<g clip-path="url(#c30)">
<polygon points="320.20,204.90 342.04,215.66 363.88,226.42 385.72,237.18 407.56,247.94 429.40,258.70 451.24,269.46 473.08,280.22 494.92,290.98 516.76,301.74 538.60,312.50 320.20,312.50" fill="#FBB4CE" />
</g>
<clipPath id="c31"><rect x="352.00" y="224.00" width="16.00" height="8.00"/></clipPath>
<g clip-path="url(#c31)">
<polygon points="320.20,204.00 320.20,204.90 342.04,215.66 363.88,226.42 385.72,237.18 407.56,247.94 429.40,258.70 451.24,269.46 473.08,280.22 494.92,290.98 516.76,301.74 538.60,312.50 538.60,204.00" fill="#C2AA7E" />
<polygon points="320.20,204.90 342.04,215.66 363.88,226.42 385.72,237.18 407.56,247.94 429.40,258.70 451.24,269.46 473.08,280.22 494.92,290.98 516.76,301.74 538.60,312.50 320.20,312.50" fill="#DDCBD7" />
</g>
<clipPath id="c32"><rect x="368.00" y="224.00" width="16.00" height="8.00"/></clipPath>
<g clip-path="url(#c32)">
<polygon points="320.20,204.90 342.04,215.66 363.88,226.42 385.72,237.18 407.56,247.94 429.40,258.70 451.24,269.46 473.08,280.22 494.92,290.98 516.76,301.74 538.60,312.50 320.20,312.50" fill="#FBB4CE" />
</g>
<clipPath id="c33"><rect x="368.00" y="232.00" width="16.00" height="8.00"/></clipPath>
<g clip-path="url(#c33)">
<polygon points="320.20,204.00 320.20,204.90 342.04,215.66 363.88,226.42 385.72,237.18 407.56,247.94 429.40,258.70 451.24,269.46 473.08,280.22 494.92,290.98 516.76,301.74 538.60,312.50 538.60,204.00" fill="#C2AA7E" />
<polygon points="320.20,204.90 342.04,215.66 363.88,226.42 385.72,237.18 407.56,247.94 429.40,258.70 451.24,269.46 473.08,280.22 494.92,290.98 516.76,301.74 538.60,312.50 320.20,312.50" fill="#DDCBD7" />
</g>
<clipPath id="c34"><rect x="384.00" y="232.00" width="16.00" height="8.00"/></clipPath>
<g clip-path="url(#c34)">
<polygon points="320.20,204.90 342.04,215.66 363.88,226.42 385.72,237.18 407.56,247.94 429.40,258.70 451.24,269.46 473.08,280.22 494.92,290.98 516.76,301.74 538.60,312.50 320.20,312.50" fill="#FBB4CE" />
</g>
<clipPath id="c35"><rect x="384.00" y="240.00" width="16.00" height="8.00"/></clipPath>
<g clip-path="url(#c35)">
<polygon points="320.20,204.00 320.20,204.90 342.04,215.66 363.88,226.42 385.72,237.18 407.56,247.94 429.40,258.70 451.24,269.46 473.08,280.22 494.92,290.98 516.76,301.74 538.60,312.50 538.60,204.00" fill="#C2AA7E" />
<polygon points="320.20,204.90 342.04,215.66 363.88,226.42 385.72,237.18 407.56,247.94 429.40,258.70 451.24,269.46 473.08,280.22 494.92,290.98 516.76,301.74 538.60,312.50 320.20,312.50" fill="#DDCBD7" />
</g>
<clipPath id="c36"><rect x="400.00" y="240.00" width="16.00" height="8.00"/></clipPath>
<g clip-path="url(#c36)">
<polygon points="320.20,204.90 342.04,215.66 363.88,226.42 385.72,237.18 407.56,247.94 429.40,258.70 451.24,269.46 473.08,280.22 494.92,290.98 516.76,301.74 538.60,312.50 320.20,312.50" fill="#FBB4CE" />
</g>
<clipPath id="c37"><rect x="400.00" y="248.00" width="16.00" height="8.00"/></clipPath>
<g clip-path="url(#c37)">
<polygon points="320.20,204.00 320.20,204.90 342.04,215.66 363.88,226.42 385.72,237.18 407.56,247.94 429.40,258.70 451.24,269.46 473.08,280.22 494.92,290.98 516.76,301.74 538.60,312.50 538.60,204.00" fill="#C2AA7E" />
<polygon points="320.20,204.90 342.04,215.66 363.88,226.42 385.72,237.18 407.56,247.94 429.40,258.70 451.24,269.46 473.08,280.22 494.92,290.98 516.76,301.74 538.60,312.50 320.20,312.50" fill="#DDCBD7" />
</g>
<clipPath id="c38"><rect x="416.00" y="248.00" width="16.00" height="8.00"/></clipPath>
<g clip-path="url(#c38)">
<polygon points="320.20,204.90 342.04,215.66 363.88,226.42 385.72,237.18 407.56,247.94 429.40,258.70 451.24,269.46 473.08,280.22 494.92,290.98 516.76,301.74 538.60,312.50 320.20,312.50" fill="#FBB4CE" />
</g>
<clipPath id="c39"><rect x="416.00" y="256.00" width="16.00" height="8.00"/></clipPath>
<g clip-path="url(#c39)">
<polygon points="320.20,204.00 320.20,204.90 342.04,215.66 363.88,226.42 385.72,237.18 407.56,247.94 429.40,258.70 451.24,269.46 473.08,280.22 494.92,290.98 516.76,301.74 538.60,312.50 538.60,204.00" fill="#C2AA7E" />
<polygon points="320.20,204.90 342.04,215.66 363.88,226.42 385.72,237.18 407.56,247.94 429.40,258.70 451.24,269.46 473.08,280.22 494.92,290.98 516.76,301.74 538.60,312.50 320.20,312.50" fill="#DDCBD7" />
</g>
<clipPath id="c40"><rect x="432.00" y="256.00" width="16.00" height="8.00"/></clipPath>
<g clip-path="url(#c40)">
<polygon points="320.20,204.90 342.04,215.66 363.88,226.42 385.72,237.18 407.56,247.94 429.40,258.70 451.24,269.46 473.08,280.22 494.92,290.98 516.76,301.74 538.60,312.50 320.20,312.50" fill="#FBB4CE" />
</g>
<clipPath id="c41"><rect x="432.00" y="264.00" width="16.00" height="8.00"/></clipPath>
<g clip-path="url(#c41)">
<polygon points="320.20,204.00 320.20,204.90 342.04,215.66 363.88,226.42 385.72,237.18 407.56,247.94 429.40,258.70 451.24,269.46 473.08,280.22 494.92,290.98 516.76,301.74 538.60,312.50 538.60,204.00" fill="#C2AA7E" />
<polygon points="320.20,204.90 342.04,215.66 363.88,226.42 385.72,237.18 407.56,247.94 429.40,258.70 451.24,269.46 473.08,280.22 494.92,290.98 516.76,301.74 538.60,312.50 320.20,312.50" fill="#DDCBD7" />
</g>
<clipPath id="c42"><rect x="448.00" y="264.00" width="16.00" height="8.00"/></clipPath>
<g clip-path="url(#c42)">
<polygon points="320.20,204.90 342.04,215.66 363.88,226.42 385.72,237.18 407.56,247.94 429.40,258.70 451.24,269.46 473.08,280.22 494.92,290.98 516.76,301.74 538.60,312.50 320.20,312.50" fill="#FBB4CE" />
</g>
<clipPath id="c43"><rect x="448.00" y="272.00" width="16.00" height="8.00"/></clipPath>
<g clip-path="url(#c43)">
<polygon points="320.20,204.00 320.20,204.90 342.04,215.66 363.88,226.42 385.72,237.18 407.56,247.94 429.40,258.70 451.24,269.46 473.08,280.22 494.92,290.98 516.76,301.74 538.60,312.50 538.60,204.00" fill="#C2AA7E" />
<polygon points="320.20,204.90 342.04,215.66 363.88,226.42 385.72,237.18 407.56,247.94 429.40,258.70 451.24,269.46 473.08,280.22 494.92,290.98 516.76,301.74 538.60,312.50 320.20,312.50" fill="#DDCBD7" />
</g>
<clipPath id="c44"><rect x="464.00" y="272.00" width="16.00" height="8.00"/></clipPath>
<g clip-path="url(#c44)">
<polygon points="320.20,204.90 342.04,215.66 363.88,226.42 385.72,237.18 407.56,247.94 429.40,258.70 451.24,269.46 473.08,280.22 494.92,290.98 516.76,301.74 538.60,312.50 320.20,312.50" fill="#FBB4CE" />
</g>
<clipPath id="c45"><rect x="464.00" y="280.00" width="16.00" height="8.00"/></clipPath>
<g clip-path="url(#c45)">
<polygon points="320.20,204.00 320.20,204.90 342.04,215.66 363.88,226.42 385.72,237.18 407.56,247.94 429.40,258.70 451.24,269.46 473.08,280.22 494.92,290.98 516.76,301.74 538.60,312.50 538.60,204.00" fill="#C2AA7E" />
<polygon points="320.20,204.90 342.04,215.66 363.88,226.42 385.72,237.18 407.56,247.94 429.40,258.70 451.24,269.46 473.08,280.22 494.92,290.98 516.76,301.74 538.60,312.50 320.20,312.50" fill="#DDCBD7" />
</g>
<clipPath id="c46"><rect x="480.00" y="280.00" width="16.00" height="8.00"/></clipPath>
<g clip-path="url(#c46)">
<polygon points="320.20,204.90 342.04,215.66 363.88,226.42 385.72,237.18 407.56,247.94 429.40,258.70 451.24,269.46 473.08,280.22 494.92,290.98 516.76,301.74 538.60,312.50 320.20,312.50" fill="#FBB4CE" />
</g>
<clipPath id="c47"><rect x="480.00" y="288.00" width="16.00" height="8.00"/></clipPath>
<g clip-path="url(#c47)">
<polygon points="320.20,204.00 320.20,204.90 342.04,215.66 363.88,226.42 385.72,237.18 407.56,247.94 429.40,258.70 451.24,269.46 473.08,280.22 494.92,290.98 516.76,301.74 538.60,312.50 538.60,204.00" fill="#C2AA7E" />
<polygon points="320.20,204.90 342.04,215.66 363.88,226.42 385.72,237.18 407.56,247.94 429.40,258.70 451.24,269.46 473.08,280.22 494.92,290.98 516.76,301.74 538.60,312.50 320.20,312.50" fill="#DDCBD7" />
</g>
<clipPath id="c48"><rect x="496.00" y="288.00" width="16.00" height="8.00"/></clipPath>
<g clip-path="url(#c48)">
<polygon points="320.20,204.00 320.20,204.90 342.04,215.66 363.88,226.42 385.72,237.18 407.56,247.94 429.40,258.70 451.24,269.46 473.08,280.22 494.92,290.98 516.76,301.74 538.60,312.50 538.60,204.00" fill="#FD9998" />
<polygon points="320.20,204.90 342.04,215.66 363.88,226.42 385.72,237.18 407.56,247.94 429.40,258.70 451.24,269.46 473.08,280.22 494.92,290.98 516.76,301.74 538.60,312.50 320.20,312.50" fill="#FBB4CE" />
</g>
<clipPath id="c49"><rect x="496.00" y="296.00" width="16.00" height="8.00"/></clipPath>
<g clip-path="url(#c49)">
<polygon points="320.20,204.00 320.20,204.90 342.04,215.66 363.88,226.42 385.72,237.18 407.56,247.94 429.40,258.70 451.24,269.46 473.08,280.22 494.92,290.98 516.76,301.74 538.60,312.50 538.60,204.00" fill="#C2AA7E" />
<polygon points="320.20,204.90 342.04,215.66 363.88,226.42 385.72,237.18 407.56,247.94 429.40,258.70 451.24,269.46 473.08,280.22 494.92,290.98 516.76,301.74 538.60,312.50 320.20,312.50" fill="#DDCBD7" />
</g>
<clipPath id="c50"><rect x="512.00" y="296.00" width="16.00" height="8.00"/></clipPath>
<g clip-path="url(#c50)">
<polygon points="320.20,204.00 320.20,204.90 342.04,215.66 363.88,226.42 385.72,237.18 407.56,247.94 429.40,258.70 451.24,269.46 473.08,280.22 494.92,290.98 516.76,301.74 538.60,312.50 538.60,204.00" fill="#FC9A98" />
<polygon points="320.20,204.90 342.04,215.66 363.88,226.42 385.72,237.18 407.56,247.94 429.40,258.70 451.24,269.46 473.08,280.22 494.92,290.98 516.76,301.74 538.60,312.50 320.20,312.50" fill="#FBB4CE" />
</g>
<clipPath id="c51"><rect x="512.00" y="304.00" width="16.00" height="8.00"/></clipPath>
<g clip-path="url(#c51)">
<polygon points="320.20,204.00 320.20,204.90 342.04,215.66 363.88,226.42 385.72,237.18 407.56,247.94 429.40,258.70 451.24,269.46 473.08,280.22 494.92,290.98 516.76,301.74 538.60,312.50 538.60,204.00" fill="#C2AA7E" />
<polygon points="320.20,204.90 342.04,215.66 363.88,226.42 385.72,237.18 407.56,247.94 429.40,258.70 451.24,269.46 473.08,280.22 494.92,290.98 516.76,301.74 538.60,312.50 320.20,312.50" fill="#DDCBD7" />
</g>
<clipPath id="c52"><rect x="528.00" y="304.00" width="10.60" height="8.00"/></clipPath>
<g clip-path="url(#c52)">
<polygon points="320.20,204.00 320.20,204.90 342.04,215.66 363.88,226.42 385.72,237.18 407.56,247.94 429.40,258.70 451.24,269.46 473.08,280.22 494.92,290.98 516.76,301.74 538.60,312.50 538.60,204.00" fill="#EB9F90" />
<polygon points="320.20,204.90 342.04,215.66 363.88,226.42 385.72,237.18 407.56,247.94 429.40,258.70 451.24,269.46 473.08,280.22 494.92,290.98 516.76,301.74 538.60,312.50 320.20,312.50" fill="#FBB4CE" />
</g>
<clipPath id="c53"><rect x="528.00" y="312.00" width="10.60" height="0.50"/></clipPath>
<g clip-path="url(#c53)">
<polygon points="320.20,204.00 320.20,204.90 342.04,215.66 363.88,226.42 385.72,237.18 407.56,247.94 429.40,258.70 451.24,269.46 473.08,280.22 494.92,290.98 516.76,301.74 538.60,312.50 538.60,204.00" fill="#C2AA7E" />
<polygon points="320.20,204.90 342.04,215.66 363.88,226.42 385.72,237.18 407.56,247.94 429.40,258.70 451.24,269.46 473.08,280.22 494.92,290.98 516.76,301.74 538.60,312.50 320.20,312.50" fill="#DDCBD7" />
</g>
<clipPath id="c54"><rect x="528.00" y="204.00" width="10.60" height="108.50"/></clipPath>
<g clip-path="url(#c54)">
<polygon points="320.20,204.00 320.20,204.90 342.04,215.66 363.88,226.42 385.72,237.18 407.56,247.94 429.40,258.70 451.24,269.46 473.08,280.22 494.92,290.98 516.76,301.74 538.60,312.50 538.60,204.00" fill="#E3A594" />
</g>
<clipPath id="c55"><rect x="320.20" y="204.00" width="218.40" height="4.00"/></clipPath>
<g clip-path="url(#c55)">
<polygon points="320.20,204.00 320.20,204.90 342.04,215.66 363.88,226.42 385.72,237.18 407.56,247.94 429.40,258.70 451.24,269.46 473.08,280.22 494.92,290.98 516.76,301.74 538.60,312.50 538.60,204.00" fill="#CBA389" />
<polygon points="320.20,204.90 342.04,215.66 363.88,226.42 385.72,237.18 407.56,247.94 429.40,258.70 451.24,269.46 473.08,280.22 494.92,290.98 516.76,301.74 538.60,312.50 320.20,312.50" fill="#DDCBD7" />
</g>
<rect x="320.20" y="304" width="15.80" height="8.50" fill="#66EBCD"/>
<polygon points="336.00,311.00 340.50,312.50 336.00,312.50" fill="#D9C9E0" />
<polygon points="320.20,303.80 340.00,312.50 320.20,312.50" fill="#1FA3AA" />
<path d="M320.20 312.60 H340.5" stroke="#5A6CB0" stroke-width="0.9"/>
<path d="M320.20 312.80 H538.60" stroke="#D4D4D4" stroke-width="0.8" fill="none"/>
<path d="M320.20 312.80 v2.2M342.04 312.80 v2.2M363.88 312.80 v2.2M385.72 312.80 v2.2M407.56 312.80 v2.2M429.40 312.80 v2.2M451.24 312.80 v2.2M473.08 312.80 v2.2M494.92 312.80 v2.2M516.76 312.80 v2.2M538.60 312.80 v2.2" stroke="#DADADA" stroke-width="0.7" fill="none"/>
<path d="M320.20 312.50 h-2.2M320.20 290.80 h-2.2M320.20 269.10 h-2.2M320.20 247.40 h-2.2M320.20 225.70 h-2.2M320.20 204.00 h-2.2" stroke="#E2E2E2" stroke-width="0.7" fill="none"/>
<text x="313.30" y="316.30" font-size="8.30" text-anchor="end" textLength="11.84" lengthAdjust="spacingAndGlyphs" fill="#1c1c1c" stroke="#1c1c1c" stroke-width="0.26">0%</text>
<text x="313.30" y="294.38" font-size="8.30" text-anchor="end" textLength="16.28" lengthAdjust="spacingAndGlyphs" fill="#1c1c1c" stroke="#1c1c1c" stroke-width="0.26">20%</text>
<text x="313.30" y="272.46" font-size="8.30" text-anchor="end" textLength="16.28" lengthAdjust="spacingAndGlyphs" fill="#1c1c1c" stroke="#1c1c1c" stroke-width="0.26">40%</text>
<text x="313.30" y="250.54" font-size="8.30" text-anchor="end" textLength="16.28" lengthAdjust="spacingAndGlyphs" fill="#1c1c1c" stroke="#1c1c1c" stroke-width="0.26">60%</text>
<text x="313.30" y="228.62" font-size="8.30" text-anchor="end" textLength="16.28" lengthAdjust="spacingAndGlyphs" fill="#1c1c1c" stroke="#1c1c1c" stroke-width="0.26">80%</text>
<text x="313.30" y="206.70" font-size="8.30" text-anchor="end" textLength="20.72" lengthAdjust="spacingAndGlyphs" fill="#1c1c1c" stroke="#1c1c1c" stroke-width="0.26">100%</text>
<text x="320.20" y="324.80" font-size="7.90" text-anchor="middle" textLength="15.96" lengthAdjust="spacingAndGlyphs" fill="#1c1c1c" stroke="#1c1c1c" stroke-width="0.26">3.2%</text>
<text x="342.04" y="324.80" font-size="7.90" text-anchor="middle" textLength="15.96" lengthAdjust="spacingAndGlyphs" fill="#1c1c1c" stroke="#1c1c1c" stroke-width="0.26">4.1%</text>
<text x="363.88" y="324.80" font-size="7.90" text-anchor="middle" textLength="15.96" lengthAdjust="spacingAndGlyphs" fill="#1c1c1c" stroke="#1c1c1c" stroke-width="0.26">4.4%</text>
<text x="385.72" y="324.80" font-size="7.90" text-anchor="middle" textLength="15.96" lengthAdjust="spacingAndGlyphs" fill="#1c1c1c" stroke="#1c1c1c" stroke-width="0.26">4.7%</text>
<text x="407.56" y="324.80" font-size="7.90" text-anchor="middle" textLength="15.96" lengthAdjust="spacingAndGlyphs" fill="#1c1c1c" stroke="#1c1c1c" stroke-width="0.26">5.0%</text>
<text x="429.40" y="324.80" font-size="7.90" text-anchor="middle" textLength="15.96" lengthAdjust="spacingAndGlyphs" fill="#1c1c1c" stroke="#1c1c1c" stroke-width="0.26">5.2%</text>
<text x="451.24" y="324.80" font-size="7.90" text-anchor="middle" textLength="15.96" lengthAdjust="spacingAndGlyphs" fill="#1c1c1c" stroke="#1c1c1c" stroke-width="0.26">5.5%</text>
<text x="473.08" y="324.80" font-size="7.90" text-anchor="middle" textLength="15.96" lengthAdjust="spacingAndGlyphs" fill="#1c1c1c" stroke="#1c1c1c" stroke-width="0.26">5.8%</text>
<text x="494.92" y="324.80" font-size="7.90" text-anchor="middle" textLength="15.96" lengthAdjust="spacingAndGlyphs" fill="#1c1c1c" stroke="#1c1c1c" stroke-width="0.26">6.1%</text>
<text x="516.76" y="324.80" font-size="7.90" text-anchor="middle" textLength="15.96" lengthAdjust="spacingAndGlyphs" fill="#1c1c1c" stroke="#1c1c1c" stroke-width="0.26">6.4%</text>
<text x="538.60" y="324.80" font-size="7.90" text-anchor="middle" textLength="15.96" lengthAdjust="spacingAndGlyphs" fill="#1c1c1c" stroke="#1c1c1c" stroke-width="0.26">6.7%</text>
<text x="292.10" y="248.50" font-size="8.80" text-anchor="middle" font-weight="bold" textLength="60.50" lengthAdjust="spacingAndGlyphs" transform="rotate(-90 292.10 248.50)" fill="#000" stroke="#000" stroke-width="0.26">Portfolio weight</text>
<text x="433.20" y="335.80" font-size="8.90" text-anchor="middle" font-weight="bold" textLength="60.00" lengthAdjust="spacingAndGlyphs" fill="#000" stroke="#000" stroke-width="0.26">Portfolio return</text>
<text x="364.40" y="193.30" font-size="11.50" text-anchor="start" textLength="107.70" lengthAdjust="spacingAndGlyphs" fill="#1c1c1c" stroke="#1c1c1c" stroke-width="0.26">March 2022–June 2024</text>
<rect x="315.85" y="343.65" width="3.90" height="3.90" fill="#645CBC"/>
<text x="321.40" y="347.80" font-size="8.30" text-anchor="start" textLength="20.50" lengthAdjust="spacingAndGlyphs" fill="#1c1c1c" stroke="#1c1c1c" stroke-width="0.26">Retail</text>
<rect x="345.95" y="343.65" width="3.90" height="3.90" fill="#74520F"/>
<text x="351.70" y="347.80" font-size="8.30" text-anchor="start" textLength="38.70" lengthAdjust="spacingAndGlyphs" fill="#1c1c1c" stroke="#1c1c1c" stroke-width="0.26">Residential</text>
<rect x="395.05" y="343.65" width="3.90" height="3.90" fill="#6594C6"/>
<text x="400.80" y="347.80" font-size="8.30" text-anchor="start" textLength="32.70" lengthAdjust="spacingAndGlyphs" fill="#1c1c1c" stroke="#1c1c1c" stroke-width="0.26">Industrial</text>
<rect x="438.15" y="343.65" width="3.90" height="3.90" fill="#4F7CE6"/>
<text x="444.10" y="347.80" font-size="8.30" text-anchor="start" textLength="21.80" lengthAdjust="spacingAndGlyphs" fill="#1c1c1c" stroke="#1c1c1c" stroke-width="0.26">Office</text>
<rect x="469.75" y="343.65" width="3.90" height="3.90" fill="#D6D6D6"/>
<text x="476.50" y="347.80" font-size="8.30" text-anchor="start" textLength="21.40" lengthAdjust="spacingAndGlyphs" fill="#1c1c1c" stroke="#1c1c1c" stroke-width="0.26">Bonds</text>
<rect x="502.15" y="343.65" width="3.90" height="3.90" fill="#C4B8A0"/>
<text x="507.90" y="347.80" font-size="8.30" text-anchor="start" textLength="22.80" lengthAdjust="spacingAndGlyphs" fill="#1c1c1c" stroke="#1c1c1c" stroke-width="0.26">Stocks</text>
</svg></body></html>
